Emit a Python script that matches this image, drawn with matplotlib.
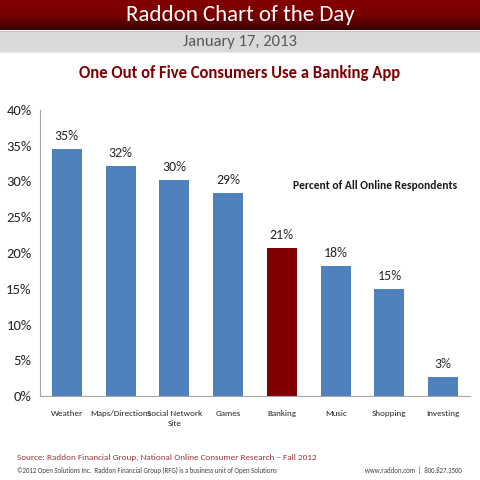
import matplotlib
matplotlib.use('Agg')
import matplotlib.pyplot as plt
import numpy as np
from matplotlib import font_manager
from matplotlib.colors import LinearSegmentedColormap
from matplotlib.ticker import PercentFormatter

# pick a Calibri-like font if one is around
installed = {f.name for f in font_manager.fontManager.ttflist}
for fam in ['Carlito', 'Calibri', 'Liberation Sans']:
    if fam in installed:
        break
plt.rcParams['font.family'] = [fam, 'DejaVu Sans']

# data
categories = ['Weather', 'Maps/Directions', 'Social Network\nSite', 'Games',
              'Banking', 'Music', 'Shopping', 'Investing']
values = [34.5, 32.2, 30.2, 28.4, 20.7, 18.2, 15.0, 2.7]
labels = ['35%', '32%', '30%', '29%', '21%', '18%', '15%', '3%']
highlight = 'Banking'

blue = '#4f81bd'
red = '#7f0000'

fig = plt.figure(figsize=(4.8, 4.8), dpi=100)

# header bands
grad = np.linspace(0, 1, 50).reshape(-1, 1)
hdr = fig.add_axes([0, 1 - 30 / 480, 1, 30 / 480])
cmap = LinearSegmentedColormap.from_list('hdr', ['#820000', '#780000', '#3c0000'])
hdr.imshow(grad, aspect='auto', cmap=cmap, extent=[0, 1, 0, 1])
hdr.axis('off')
fig.text(0.5, 1 - 15 / 480, 'Raddon Chart of the Day', color='white', fontsize=16.5,
         ha='center', va='center')

band = fig.add_axes([0, 1 - 53 / 480, 1, 22 / 480])
band.set_facecolor('#d9d9d9')
band.set_xticks([])
band.set_yticks([])
for s in band.spines.values():
    s.set_visible(False)
band.axhline(1, color='#bfbfbf', lw=1.2)
band.axhline(0, color='#f2f2f2', lw=1.2)
fig.text(0.5, 1 - 42 / 480, 'January 17, 2013', color='#595959', fontsize=12,
         ha='center', va='center')

fig.text(0.5, 1 - 73 / 480, 'One Out of Five Consumers Use a Banking App', color=red,
         fontsize=12, fontweight='bold', ha='center', va='center')

# main chart
ax = fig.add_axes([40 / 480, 1 - 396 / 480, 430 / 480, 286 / 480])
x = np.arange(len(categories))
colors = [red if c == highlight else blue for c in categories]
bars = ax.bar(x, values, width=0.56, color=colors)
for b, t in zip(bars, labels):
    ax.annotate(t, xy=(b.get_x() + b.get_width() / 2, b.get_height()),
                xytext=(0, 5), textcoords='offset points',
                ha='center', va='bottom', fontsize=10, color='#262626')

ax.set_xlim(-0.5, len(categories) - 0.5)
ax.set_ylim(0, 40)
ax.set_yticks(range(0, 41, 5))
ax.yaxis.set_major_formatter(PercentFormatter(decimals=0))
ax.set_xticks(x)
ax.set_xticklabels(categories, fontsize=6.5, linespacing=1.6)
ax.tick_params(axis='both', length=0, colors='#262626')
ax.tick_params(axis='y', labelsize=10.5, pad=6)
ax.tick_params(axis='x', pad=10)
for s in ['top', 'right']:
    ax.spines[s].set_visible(False)
for s in ['left', 'bottom']:
    ax.spines[s].set_color('#a6a6a6')
    ax.spines[s].set_linewidth(0.8)

ax.text(0.97, 0.735, 'Percent of All Online Respondents', transform=ax.transAxes,
        ha='right', va='center', fontsize=8.3, fontweight='bold', color='#1a1a1a')

# footer
fig.text(17 / 480, 1 - 457 / 480,
         'Source: Raddon Financial Group, National Online Consumer Research \u2013 Fall 2012',
         color='#953735', fontsize=6.6, ha='left', va='center')
fig.text(17 / 480, 1 - 470 / 480,
         '\u00a92012 Open Solutions Inc.  Raddon Financial Group (RFG) is a business unit of Open Solutions',
         color='#404040', fontsize=4.9, ha='left', va='center')
fig.text(462 / 480, 1 - 470 / 480, 'www.raddon.com  |  800.827.3500',
         color='#404040', fontsize=4.9, ha='right', va='center')

plt.savefig('out.png', dpi=100)
